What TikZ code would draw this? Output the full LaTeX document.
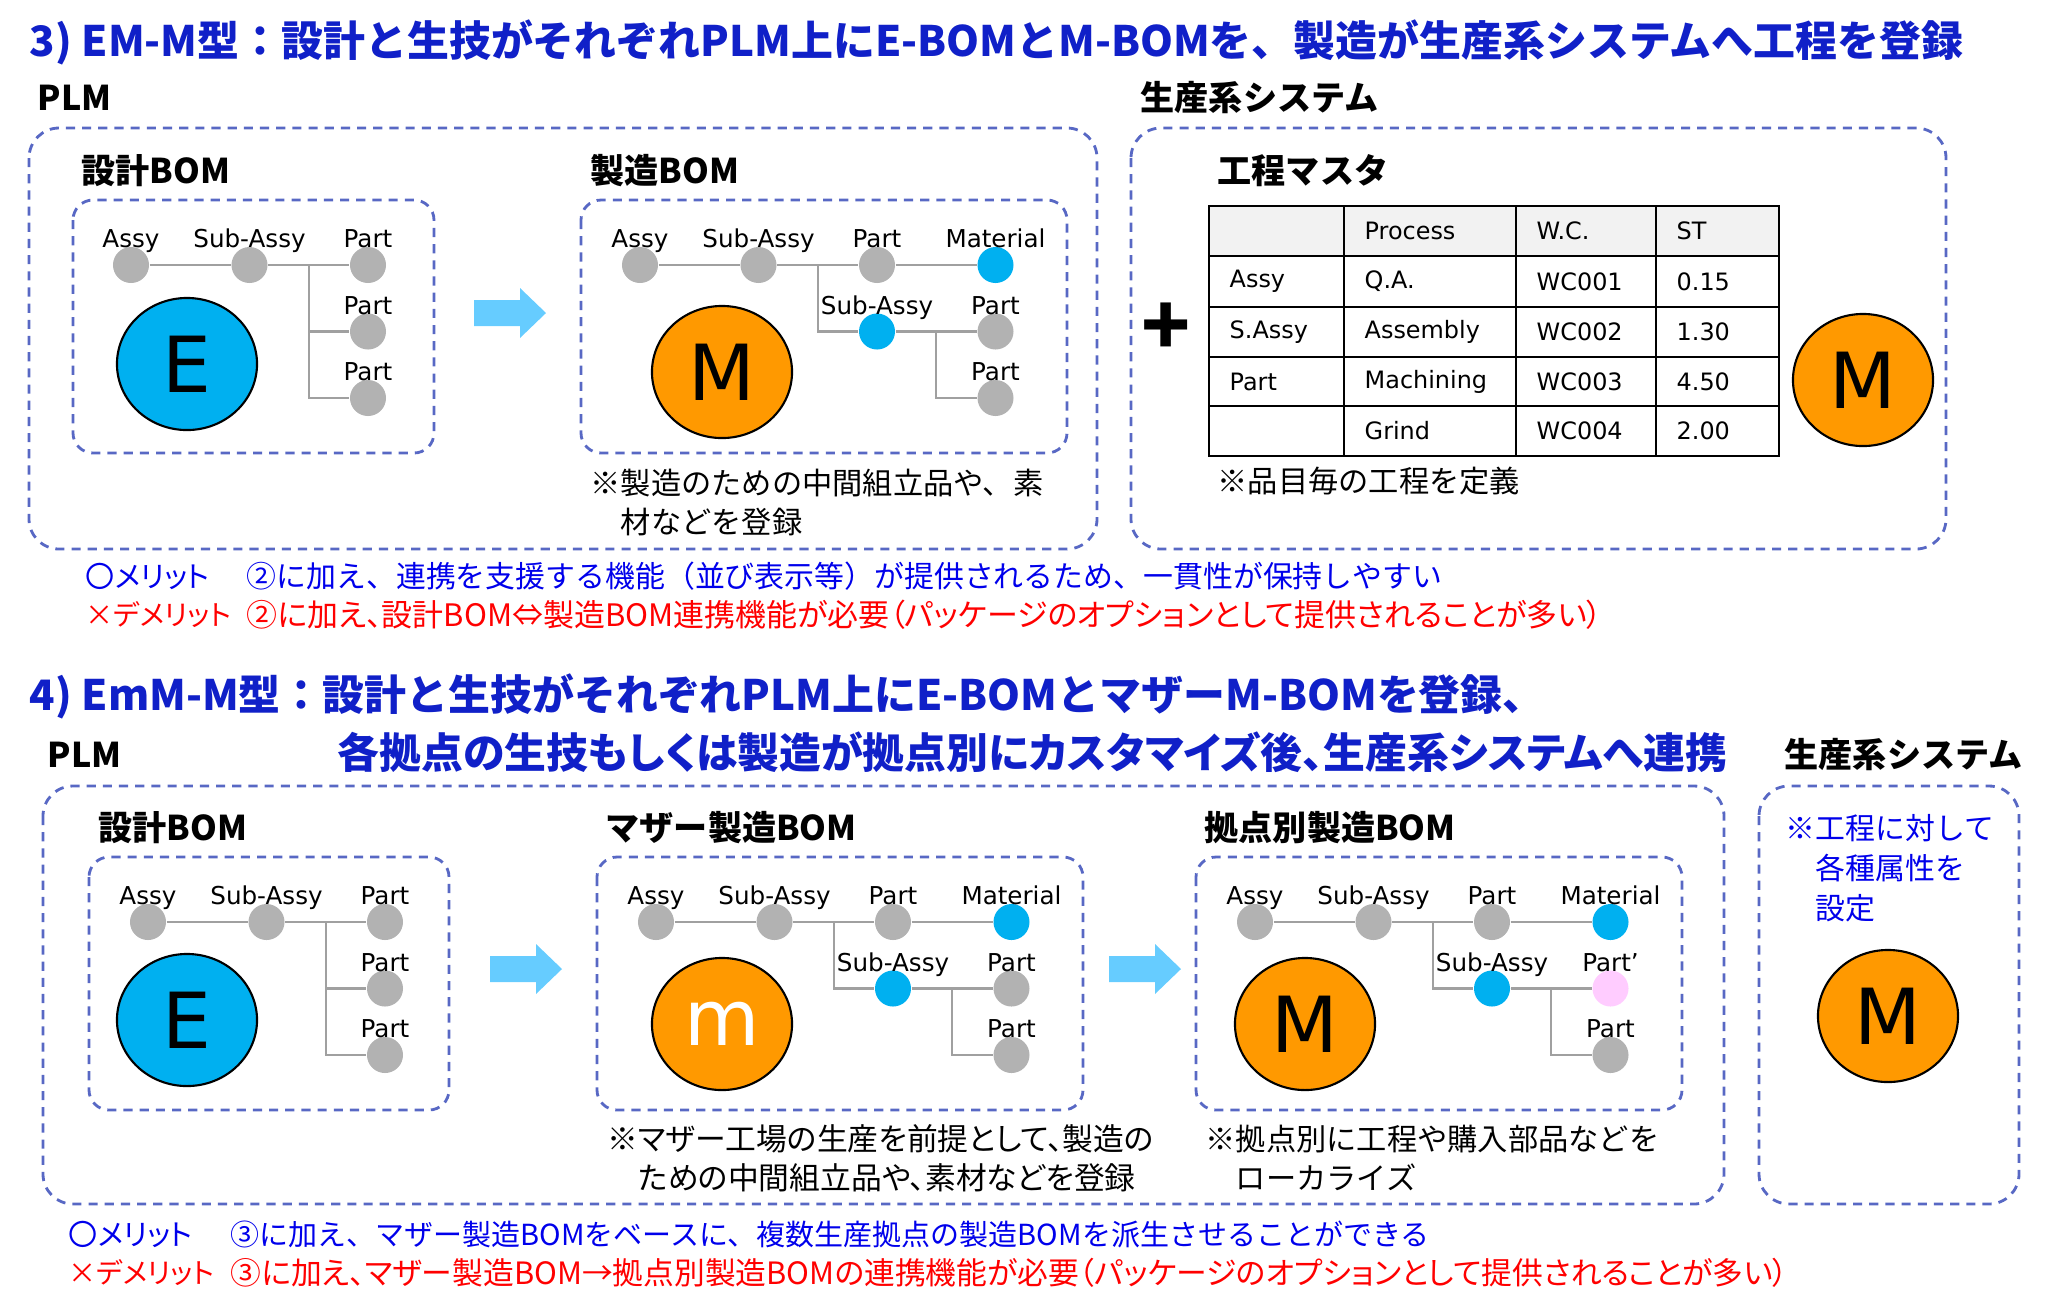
\documentclass[tikz,border=0pt]{standalone}
\usepackage{fontspec}
\setmainfont{Noto Sans CJK JP}
\newfontfamily\pjp{Noto Sans CJK JP}[RawFeature=+palt]
\newfontfamily\lat{DejaVu Sans}
\usepackage{tikz}
\usetikzlibrary{shapes.geometric, positioning, calc}
\definecolor{titleblue}{RGB}{16,32,200}
\definecolor{meritblue}{RGB}{0,0,235}
\definecolor{dashblue}{RGB}{88,104,196}
\definecolor{itemgray}{RGB}{178,178,178}
\definecolor{linegray}{RGB}{160,160,160}
\definecolor{bomcyan}{RGB}{0,176,240}
\definecolor{bomorange}{RGB}{255,153,0}
\definecolor{arrowblue}{RGB}{102,204,255}
\definecolor{partpink}{RGB}{255,204,255}
\definecolor{headgray}{RGB}{242,242,242}

\begin{document}
\begin{tikzpicture}[x=0.01cm, y=-0.01cm,
    outerbox/.style={draw=dashblue, line width=0.8pt,
      dash pattern=on 2.6pt off 2pt, rounded corners=0.3cm},
    innerbox/.style={outerbox, rounded corners=0.2cm},
    title/.style={anchor=west, inner sep=0, text=titleblue,
      font=\fontsize{11.92}{14}\selectfont\bfseries},
    heading/.style={anchor=west, inner sep=0,
      font=\fontsize{9.7}{12}\selectfont\bfseries},
    note/.style={anchor=west, inner sep=0, align=left,
      font=\fontsize{8.6}{11.1}\selectfont},
    merit/.style={anchor=west, inner sep=0, text=meritblue,
      font=\fontsize{8.5}{10}\selectfont},
    demerit/.style={merit, text=red},
    item/.style={circle, fill=itemgray, minimum size=0.36cm, inner sep=0},
    cyanitem/.style={item, fill=bomcyan},
    pinkitem/.style={item, fill=partpink},
    lbl/.style={font=\lat\fontsize{7}{8}\selectfont, inner sep=0,
      text depth=0pt, label distance=-0.2mm},
    treeline/.style={draw=linegray, line width=0.6pt},
    bigball/.style={ellipse, draw=black, line width=0.6pt,
      minimum width=1.4cm, minimum height=1.32cm, inner sep=0,
      font=\lat\fontsize{22}{22}\selectfont},
    bigarrow/.style={fill=arrowblue},
    tablerule/.style={draw=black, line width=0.8pt},
    cell/.style={anchor=west, inner sep=0, font=\lat\fontsize{6.8}{8}\selectfont}]

  \useasboundingbox (0,0) rectangle (2048,1314);

% 3) EM-M

  \node[title] (title3) at (29,42)
    {3) EM-M型：設計と生技がそれぞれPLM上にE-BOMとM-BOMを、製造が生産系システムへ工程を登録};
  \node[heading] (plm3) at (37,98) {PLM};
  \node[heading] (sys3) at (1140,98) {生産系システム};

  \draw[outerbox] (29,128) rectangle (1097,549);
  \draw[outerbox] (1131,128) rectangle (1946,549);

  \node[heading] (ebomtitle3) at (81,171) {設計BOM};
  \node[heading] (mbomtitle3) at (590,171) {製造BOM};
  \draw[innerbox] (73,200) rectangle (434,453);
  \draw[innerbox] (581,200) rectangle (1067,453);

  % design BOM tree
  \begin{scope}[shift={(131,265)}]
    \node[item, label={[lbl]above:Assy}] (e3assy) at (0,0) {};
    \node[item, label={[lbl]above:Sub-Assy}] (e3sub) at (118.5,0) {};
    \node[item, label={[lbl]above:Part}] (e3pa) at (237,0) {};
    \node[item, label={[lbl]above:Part}] (e3pb) at (237,66.5) {};
    \node[item, label={[lbl]above:Part}] (e3pc) at (237,133) {};
  \end{scope}
  \draw[treeline] (e3assy) -- (e3sub);
  \draw[treeline] (e3sub) -- (e3pa);
  \draw[treeline] ($(e3sub)!0.5!(e3pa)$) |- (e3pb);
  \draw[treeline] ($(e3sub)!0.5!(e3pa)$) |- (e3pc);

  \node[bigball, fill=bomcyan] (ball3e) at (187,364) {E};

  \fill[bigarrow] (474,300) -- ++(46,0) -- ++(0,-12) -- ++(26,25)
    -- ++(-26,25) -- ++(0,-12) -- ++(-46,0) -- cycle;

  % manufacturing BOM tree
  \begin{scope}[shift={(640,265)}]
    \node[item, label={[lbl]above:Assy}] (m3assy) at (0,0) {};
    \node[item, label={[lbl]above:Sub-Assy}] (m3sub) at (118.5,0) {};
    \node[item, label={[lbl]above:Part}] (m3part) at (237,0) {};
    \node[cyanitem, label={[lbl]above:Material}] (m3mat) at (355.5,0) {};
    \node[cyanitem, label={[lbl]above:Sub-Assy}] (m3subb) at (237,66.5) {};
    \node[item, label={[lbl]above:Part}] (m3pb) at (355.5,66.5) {};
    \node[item, label={[lbl]above:Part}] (m3pc) at (355.5,133) {};
  \end{scope}
  \draw[treeline] (m3assy) -- (m3sub);
  \draw[treeline] (m3sub) -- (m3part);
  \draw[treeline] (m3part) -- (m3mat);
  \draw[treeline] ($(m3sub)!0.5!(m3part)$) |- (m3subb);
  \draw[treeline] (m3subb) -- (m3pb);
  \draw[treeline] ($(m3subb)!0.5!(m3pb)$) |- (m3pc);

  \node[bigball, fill=bomorange] (ball3m) at (722,372) {M};

  \node[note] (note3m) at (590,502)
    {※製造のための中間組立品や、素\\\hspace*{1em}材などを登録};

  % process master
  \node[font=\bfseries\fontsize{23}{23}\selectfont, inner sep=0] (plus3) at (1166,329) {+};
  \node[heading] (proctitle3) at (1217,171) {工程マスタ};

  \fill[headgray] (1209,206) rectangle (1779,256);
  \draw[tablerule] (1209,206) rectangle (1779,456);
  \draw[tablerule] (1209,256) -- (1779,256);
  \draw[tablerule] (1209,307) -- (1779,307);
  \draw[tablerule] (1209,357) -- (1779,357);
  \draw[tablerule] (1209,406) -- (1779,406);
  \draw[tablerule] (1344,206) -- (1344,456);
  \draw[tablerule] (1516,206) -- (1516,456);
  \draw[tablerule] (1656,206) -- (1656,456);

  \node[cell] (hproc) at (1364,231) {Process};
  \node[cell] (hwc) at (1536,231) {W.C.};
  \node[cell] (hst) at (1676,231) {ST};
  \node[cell] (r1item) at (1229,281.5) {Assy};
  \node[cell] (r1proc) at (1364,281.5) {Q.A.};
  \node[cell] (r1wc) at (1536,281.5) {WC001};
  \node[cell] (r1st) at (1676,281.5) {0.15};
  \node[cell] (r2item) at (1229,332) {S.Assy};
  \node[cell] (r2proc) at (1364,332) {Assembly};
  \node[cell] (r2wc) at (1536,332) {WC002};
  \node[cell] (r2st) at (1676,332) {1.30};
  \node[cell] (r3item) at (1229,381.5) {Part};
  \node[cell] (r3proc) at (1364,381.5) {Machining};
  \node[cell] (r3wc) at (1536,381.5) {WC003};
  \node[cell] (r3st) at (1676,381.5) {4.50};
  \node[cell] (r4proc) at (1364,431) {Grind};
  \node[cell] (r4wc) at (1536,431) {WC004};
  \node[cell] (r4st) at (1676,431) {2.00};

  \node[bigball, fill=bomorange] (ball3sys) at (1863,380) {M};
  \node[note] (note3sys) at (1217,481) {※品目毎の工程を定義};

  \node[merit, font=\pjp\fontsize{8.3}{10}\selectfont] (merit3) at (85,576) {〇メリット};
  \node[merit] (merittext3) at (246,576)
    {②に加え、連携を支援する機能（並び表示等）が提供されるため、一貫性が保持しやすい};
  \node[demerit, font=\pjp\fontsize{8}{10}\selectfont] (demerit3) at (85,615) {×デメリット};
  \node[demerit, font=\pjp\fontsize{8.8}{10}\selectfont] (demerittext3) at (246,615)
    {②に加え、設計BOM⇔製造BOM連携機能が必要（パッケージのオプションとして提供されることが多い）};

% 4) EmM-M

  \node[title] (title4a) at (29,696)
    {4) EmM-M型：設計と生技がそれぞれPLM上にE-BOMとマザーM-BOMを登録、};
  \node[title, font=\pjp\fontsize{11.9}{14}\selectfont\bfseries] (title4b) at (337,752)
    {各拠点の生技もしくは製造が拠点別にカスタマイズ後、生産系システムへ連携};
  \node[heading] (plm4) at (47,755) {PLM};
  \node[heading] (sys4) at (1784,755) {生産系システム};

  \draw[outerbox] (43,786) rectangle (1724,1204);
  \draw[outerbox] (1759,786) rectangle (2019,1204);

  \node[heading] (ebomtitle4) at (98,828) {設計BOM};
  \node[heading] (mmtitle4) at (605,828) {マザー製造BOM};
  \node[heading] (ltitle4) at (1204,828) {拠点別製造BOM};
  \draw[innerbox] (89,857) rectangle (449,1110);
  \draw[innerbox] (597,857) rectangle (1083,1110);
  \draw[innerbox] (1196,857) rectangle (1682,1110);

  % design BOM tree
  \begin{scope}[shift={(148,922)}]
    \node[item, label={[lbl]above:Assy}] (e4assy) at (0,0) {};
    \node[item, label={[lbl]above:Sub-Assy}] (e4sub) at (118.5,0) {};
    \node[item, label={[lbl]above:Part}] (e4pa) at (237,0) {};
    \node[item, label={[lbl]above:Part}] (e4pb) at (237,66.5) {};
    \node[item, label={[lbl]above:Part}] (e4pc) at (237,133) {};
  \end{scope}
  \draw[treeline] (e4assy) -- (e4sub);
  \draw[treeline] (e4sub) -- (e4pa);
  \draw[treeline] ($(e4sub)!0.5!(e4pa)$) |- (e4pb);
  \draw[treeline] ($(e4sub)!0.5!(e4pa)$) |- (e4pc);

  \node[bigball, fill=bomcyan] (ball4e) at (187,1020) {E};

  \fill[bigarrow] (490,956) -- ++(46,0) -- ++(0,-12) -- ++(26,25)
    -- ++(-26,25) -- ++(0,-12) -- ++(-46,0) -- cycle;

  % mother manufacturing BOM tree
  \begin{scope}[shift={(656,922)}]
    \node[item, label={[lbl]above:Assy}] (mm4assy) at (0,0) {};
    \node[item, label={[lbl]above:Sub-Assy}] (mm4sub) at (118.5,0) {};
    \node[item, label={[lbl]above:Part}] (mm4part) at (237,0) {};
    \node[cyanitem, label={[lbl]above:Material}] (mm4mat) at (355.5,0) {};
    \node[cyanitem, label={[lbl]above:Sub-Assy}] (mm4subb) at (237,66.5) {};
    \node[item, label={[lbl]above:Part}] (mm4pb) at (355.5,66.5) {};
    \node[item, label={[lbl]above:Part}] (mm4pc) at (355.5,133) {};
  \end{scope}
  \draw[treeline] (mm4assy) -- (mm4sub);
  \draw[treeline] (mm4sub) -- (mm4part);
  \draw[treeline] (mm4part) -- (mm4mat);
  \draw[treeline] ($(mm4sub)!0.5!(mm4part)$) |- (mm4subb);
  \draw[treeline] (mm4subb) -- (mm4pb);
  \draw[treeline] ($(mm4subb)!0.5!(mm4pb)$) |- (mm4pc);

  \node[bigball, fill=bomorange, text=white] (ball4mm) at (722,1024) {m};
  \node[note, font=\pjp\fontsize{8.75}{11.1}\selectfont] (note4mm) at (607,1158)
    {※マザー工場の生産を前提として、製造の\\\hspace*{1em}ための中間組立品や、素材などを登録};

  \fill[bigarrow] (1109,956) -- ++(46,0) -- ++(0,-12) -- ++(26,25)
    -- ++(-26,25) -- ++(0,-12) -- ++(-46,0) -- cycle;

  % local manufacturing BOM tree
  \begin{scope}[shift={(1255,922)}]
    \node[item, label={[lbl]above:Assy}] (l4assy) at (0,0) {};
    \node[item, label={[lbl]above:Sub-Assy}] (l4sub) at (118.5,0) {};
    \node[item, label={[lbl]above:Part}] (l4part) at (237,0) {};
    \node[cyanitem, label={[lbl]above:Material}] (l4mat) at (355.5,0) {};
    \node[cyanitem, label={[lbl]above:Sub-Assy}] (l4subb) at (237,66.5) {};
    \node[pinkitem, label={[lbl]above:Part’}] (l4pb) at (355.5,66.5) {};
    \node[item, label={[lbl]above:Part}] (l4pc) at (355.5,133) {};
  \end{scope}
  \draw[treeline] (l4assy) -- (l4sub);
  \draw[treeline] (l4sub) -- (l4part);
  \draw[treeline] (l4part) -- (l4mat);
  \draw[treeline] ($(l4sub)!0.5!(l4part)$) |- (l4subb);
  \draw[treeline] (l4subb) -- (l4pb);
  \draw[treeline] ($(l4subb)!0.5!(l4pb)$) |- (l4pc);

  \node[bigball, fill=bomorange] (ball4l) at (1305,1024) {M};
  \node[note] (note4l) at (1205,1158)
    {※拠点別に工程や購入部品などを\\\hspace*{1em}ローカライズ};

  % production system
  \node[note, text=meritblue, font=\fontsize{8.5}{11.4}\selectfont] (note4sys) at (1785,868)
    {※工程に対して\\\hspace*{1em}各種属性を\\\hspace*{1em}設定};
  \node[bigball, fill=bomorange] (ball4sys) at (1888,1016) {M};

  \node[merit, font=\pjp\fontsize{8.3}{10}\selectfont] (merit4) at (68,1234) {〇メリット};
  \node[merit, font=\fontsize{8.25}{10}\selectfont] (merittext4) at (230,1234)
    {③に加え、マザー製造BOMをベースに、複数生産拠点の製造BOMを派生させることができる};
  \node[demerit, font=\pjp\fontsize{8}{10}\selectfont] (demerit4) at (68,1273) {×デメリット};
  \node[demerit, font=\pjp\fontsize{8.75}{10}\selectfont] (demerittext4) at (230,1273)
    {③に加え、マザー製造BOM→拠点別製造BOMの連携機能が必要（パッケージのオプションとして提供されることが多い）};

\end{tikzpicture}
\end{document}
